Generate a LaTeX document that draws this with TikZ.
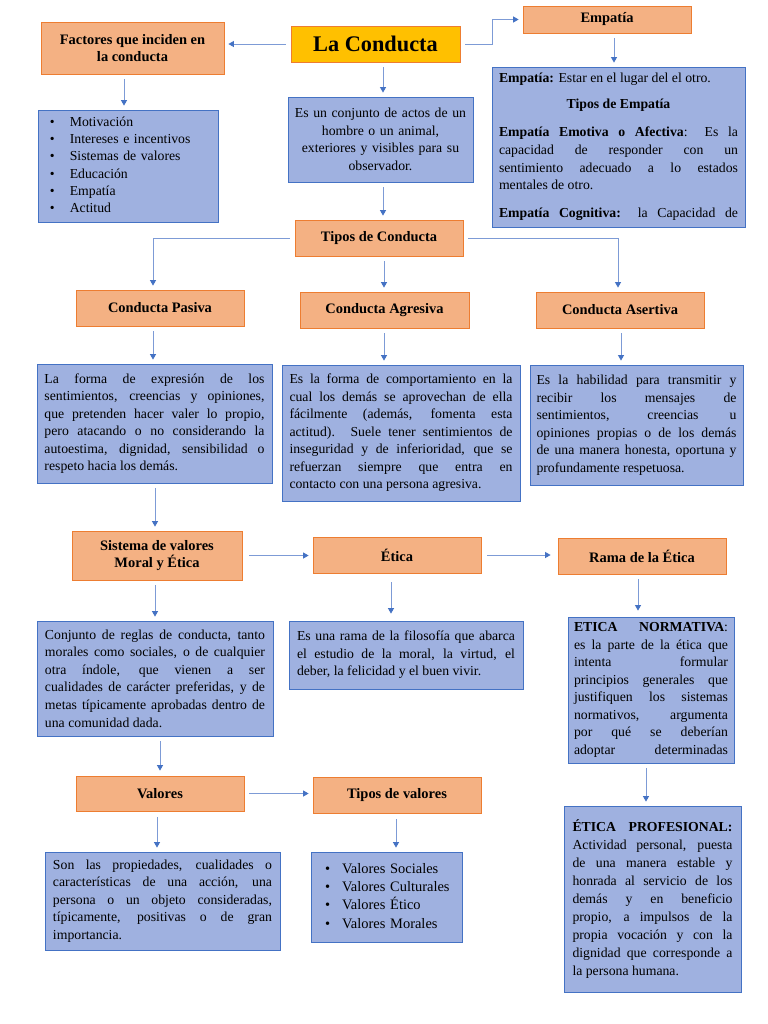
\documentclass[tikz,border=0pt]{standalone}
\usepackage{fontspec}
\setmainfont{Liberation Serif}
\usetikzlibrary{arrows.meta}
\definecolor{salmon}{HTML}{F4B183}
\definecolor{orangeb}{HTML}{ED7D31}
\definecolor{bluef}{HTML}{9FB1E0}
\definecolor{blueb}{HTML}{4472C4}
\definecolor{gold}{HTML}{FFC000}
\definecolor{arrline}{HTML}{7D9BD6}
\definecolor{arrhead}{HTML}{4472C4}
\tolerance=9999 \hbadness=10000 \hyphenpenalty=10000 \exhyphenpenalty=10000
\newcommand\fullline[1]{\makebox[\hsize][s]{#1}}
\begin{document}
\begin{tikzpicture}[x=1bp, y=-1bp,
  hdr/.style={draw=orangeb, fill=salmon, line width=0.8bp, font=\bfseries\fontsize{14.5}{17}\selectfont, align=center, inner sep=0pt},
  txt/.style={draw=blueb, fill=bluef, line width=0.8bp, font=\fontsize{13.8}{17.6}\selectfont, align=justify, inner ysep=2bp},
  arr/.style={draw=arrline, line width=0.9bp, -{Triangle[length=5.5bp, width=6bp, color=arrhead]}, shorten <=5bp, shorten >=4bp}]
\useasboundingbox[fill=white] (0,0) rectangle (768,1024);

% headers
\node[hdr, fill=gold, font=\bfseries\fontsize{22.4}{26}\selectfont, minimum width=169bp, minimum height=36bp] (conducta) at (375.5,44) {La Conducta};
\node[hdr, minimum width=183bp, minimum height=52bp] (factores) at (132.5,48) {Factores que inciden en\\la conducta};
\node[hdr, minimum width=168bp, minimum height=27bp] (empatia) at (607,19.5) {Empatía};
\node[hdr, minimum width=168bp, minimum height=36bp] (tiposc) at (379,238) {Tipos de Conducta};
\node[hdr, minimum width=168bp, minimum height=36bp] (pasiva) at (160,308) {Conducta Pasiva};
\node[hdr, minimum width=169bp, minimum height=36bp] (agresiva) at (384.5,310) {Conducta Agresiva};
\node[hdr, minimum width=168bp, minimum height=36bp] (asertiva) at (620,310) {Conducta Asertiva};
\node[hdr, minimum width=170bp, minimum height=49bp] (sistema) at (157,555.5) {Sistema de valores\\Moral y Ética};
\node[hdr, minimum width=168bp, minimum height=36bp] (etica) at (397,555) {Ética};
\node[hdr, minimum width=168bp, minimum height=36bp] (rama) at (642,556) {Rama de la Ética};
\node[hdr, minimum width=168bp, minimum height=35bp] (valores) at (160,793.5) {Valores};
\node[hdr, minimum width=168bp, minimum height=36bp] (tiposv) at (397,795) {Tipos de valores};

% text boxes
\node[txt, align=left, text width=156bp, inner xsep=12bp, minimum height=112bp, font=\fontsize{13.8}{17.4}\selectfont] (factlist) at (128,166)
 {\begin{tabular}{@{}l@{\hspace{15bp}}l@{}}
 \textbullet & Motivación\\
 \textbullet & Intereses e incentivos\\
 \textbullet & Sistemas de valores\\
 \textbullet & Educación\\
 \textbullet & Empatía\\
 \textbullet & Actitud
 \end{tabular}};

\node[txt, align=center, text width=175bp, inner xsep=5bp, minimum height=85bp] (defbox) at (380.5,139.5)
 {Es un conjunto de actos de un\\hombre o un animal,\\exteriores y visibles para su\\observador.};

\node[txt, text width=239bp, inner xsep=7bp, minimum height=160bp] (empbox) at (618.5,147)
 {{\bfseries Empatía:} Estar en el lugar del el otro.\par
  \vspace{8.5bp}
  {\centering\bfseries Tipos de Empatía\par}
  \vspace{10.5bp}
  {\bfseries Empatía Emotiva o Afectiva}: Es la\linebreak capacidad de responder con un\linebreak sentimiento adecuado a lo estados\linebreak mentales de otro.\par
  \vspace{10.5bp}
  \fullline{{\bfseries Empatía} {\bfseries Cognitiva:} la Capacidad de}};

\node[txt, text width=220bp, inner xsep=7.5bp, minimum height=119bp] (pasivatx) at (154.5,423.5)
 {La forma de expresión de los\linebreak sentimientos, creencias y opiniones,\linebreak que pretenden hacer valer lo propio,\linebreak pero atacando o no considerando la\linebreak autoestima, dignidad, sensibilidad o\linebreak respeto hacia los demás.};

\node[txt, text width=223bp, inner xsep=7.5bp, minimum height=136bp] (agresivatx) at (401,433)
 {Es la forma de comportamiento en la\linebreak cual los demás se aprovechan de ella\linebreak fácilmente (además, fomenta esta\linebreak actitud). Suele tener sentimientos de\linebreak inseguridad y de inferioridad, que se\linebreak refuerzan siempre que entra en\linebreak contacto con una persona agresiva.};

\node[txt, text width=200bp, inner xsep=6.5bp, minimum height=120bp] (asertivatx) at (636.5,425)
 {Es la habilidad para transmitir y\linebreak recibir los mensajes de\linebreak sentimientos, creencias u\linebreak opiniones propias o de los demás\linebreak de una manera honesta, oportuna y\linebreak profundamente respetuosa.};

\node[txt, text width=220bp, inner xsep=8bp, minimum height=115bp] (sistematx) at (155,678.5)
 {Conjunto de reglas de conducta, tanto\linebreak morales como sociales, o de cualquier\linebreak otra índole, que vienen a ser\linebreak cualidades de carácter preferidas, y de\linebreak metas típicamente aprobadas dentro de\linebreak una comunidad dada.};

\node[txt, text width=218bp, inner xsep=8bp, minimum height=68bp] (eticatx) at (406,655)
 {Es una rama de la filosofía que abarca\linebreak el estudio de la moral, la virtud, el\linebreak deber, la felicidad y el buen vivir.};

\node[txt, text width=154bp, inner xsep=6bp, minimum height=146bp] (normtx) at (651,690)
 {{\bfseries ETICA NORMATIVA}:\linebreak es la parte de la ética que\linebreak intenta formular\linebreak principios generales que\linebreak justifiquen los sistemas\linebreak normativos, argumenta\linebreak por qué se deberían\linebreak
  \fullline{adoptar determinadas}};

\node[txt, text width=160bp, inner xsep=8.5bp, minimum height=186bp, font=\fontsize{13.8}{18}\selectfont] (proftx) at (652.5,899)
 {{\bfseries ÉTICA PROFESIONAL:}\linebreak Actividad personal, puesta\linebreak de una manera estable y\linebreak honrada al servicio de los\linebreak demás y en beneficio\linebreak propio, a impulsos de la\linebreak propia vocación y con la\linebreak dignidad que corresponde a\linebreak la persona humana.};

\node[txt, text width=219bp, inner xsep=8bp, minimum height=98bp] (valorestx) at (162.5,901)
 {Son las propiedades, cualidades o\linebreak características de una acción, una\linebreak persona o un objeto consideradas,\linebreak típicamente, positivas o de gran\linebreak importancia.};

\node[txt, align=left, text width=123bp, inner xsep=14bp, minimum height=90bp, font=\fontsize{14.5}{18.5}\selectfont] (tiposvtx) at (386.5,897)
 {\begin{tabular}{@{}l@{\hspace{12bp}}l@{}}
 \textbullet & Valores Sociales\\
 \textbullet & Valores Culturales\\
 \textbullet & Valores Ético\\
 \textbullet & Valores Morales
 \end{tabular}};

% connectors
\draw[arr] (conducta.west) -- (conducta.west -| factores.east);
\draw[arr] (conducta.east) -- ++(32,0) |- (empatia.west);
\draw[arr] (124,0 |- factores.south) -- (124,0 |- factlist.north);
\draw[arr] (614,0 |- empatia.south) -- (614,0 |- empbox.north);
\draw[arr] (383,0 |- conducta.south) -- (383,0 |- defbox.north);
\draw[arr] (383,0 |- defbox.south) -- (383,0 |- tiposc.north);
\draw[arr] (tiposc.west) -| (153,0 |- pasiva.north);
\draw[arr] (tiposc.east) -| (618,0 |- asertiva.north);
\draw[arr] (384,0 |- tiposc.south) -- (384,0 |- agresiva.north);
\draw[arr] (153,0 |- pasiva.south) -- (153,0 |- pasivatx.north);
\draw[arr] (384,0 |- agresiva.south) -- (384,0 |- agresivatx.north);
\draw[arr] (621,0 |- asertiva.south) -- (621,0 |- asertivatx.north);
\draw[arr] (155,0 |- pasivatx.south) -- (155,0 |- sistema.north);
\draw[arr, shorten <=7bp] (sistema.east) -- (sistema.east -| etica.west);
\draw[arr, shorten <=6bp, shorten >=7bp] (etica.east) -- (etica.east -| rama.west);
\draw[arr] (155,0 |- sistema.south) -- (155,0 |- sistematx.north);
\draw[arr, shorten <=9bp, shorten >=7bp] (391,0 |- etica.south) -- (391,0 |- eticatx.north);
\draw[arr, shorten >=6bp] (638,0 |- rama.south) -- (638,0 |- normtx.north);
\draw[arr] (646,0 |- normtx.south) -- (646,0 |- proftx.north);
\draw[arr, shorten >=5bp] (160,0 |- sistematx.south) -- (160,0 |- valores.north);
\draw[arr] (valores.east) -- (valores.east -| tiposv.west);
\draw[arr, shorten <=6bp] (157,0 |- valores.south) -- (157,0 |- valorestx.north);
\draw[arr, shorten <=6bp] (396,0 |- tiposv.south) -- (396,0 |- tiposvtx.north);
\end{tikzpicture}
\end{document}
